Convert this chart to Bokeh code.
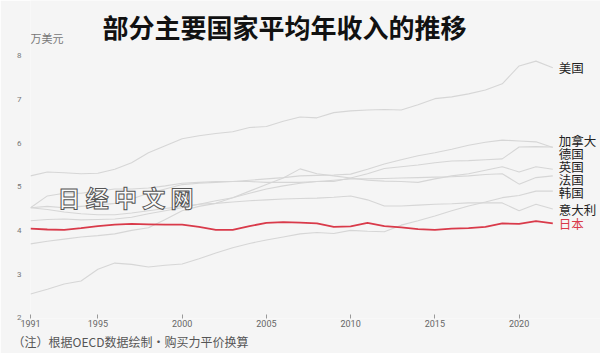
from bokeh.plotting import figure
from bokeh.models import Range1d, FixedTicker, Title, Label, ColumnDataSource
from bokeh.embed import file_html
from bokeh.resources import INLINE
from bokeh.core.properties import value

years = list(range(1991, 2023))

usa = [5.25, 5.34, 5.32, 5.30, 5.31, 5.40, 5.55, 5.78, 5.94, 6.10, 6.17, 6.22, 6.26, 6.36, 6.38, 6.50,
       6.60, 6.58, 6.70, 6.74, 6.76, 6.77, 6.76, 6.88, 7.02, 7.06, 7.13, 7.22, 7.36, 7.77, 7.88, 7.73]
canada = [4.52, 4.55, 4.52, 4.55, 4.58, 4.62, 4.72, 4.85, 4.95, 5.05, 5.08, 5.10, 5.12, 5.15, 5.18, 5.21,
          5.25, 5.26, 5.27, 5.29, 5.40, 5.52, 5.62, 5.71, 5.78, 5.86, 5.95, 6.02, 6.07, 6.05, 6.03, 5.90]
germany = [4.52, 4.79, 4.85, 4.85, 4.90, 4.95, 4.95, 4.97, 5.02, 5.08, 5.10, 5.12, 5.12, 5.12, 5.10, 5.10,
           5.10, 5.12, 5.12, 5.20, 5.30, 5.42, 5.46, 5.50, 5.55, 5.59, 5.60, 5.62, 5.64, 5.91, 5.92, 5.91]
uk = [3.69, 3.75, 3.80, 3.85, 3.88, 3.92, 4.00, 4.06, 4.25, 4.45, 4.55, 4.62, 4.75, 4.90, 5.05, 5.20,
      5.41, 5.30, 5.25, 5.20, 5.15, 5.13, 5.12, 5.10, 5.18, 5.25, 5.30, 5.38, 5.46, 5.34, 5.46, 5.40]
france = [4.22, 4.25, 4.26, 4.24, 4.25, 4.26, 4.30, 4.38, 4.45, 4.52, 4.60, 4.68, 4.75, 4.85, 4.95, 5.02,
          5.08, 5.12, 5.15, 5.18, 5.18, 5.19, 5.20, 5.21, 5.22, 5.23, 5.25, 5.28, 5.30, 5.06, 5.21, 5.25]
korea = [2.54, 2.65, 2.77, 2.84, 3.11, 3.25, 3.22, 3.16, 3.20, 3.23, 3.35, 3.48, 3.60, 3.70, 3.78, 3.85,
         3.92, 3.95, 3.93, 4.00, 3.98, 3.97, 4.12, 4.22, 4.33, 4.45, 4.56, 4.65, 4.75, 4.80, 4.90, 4.90]
italy = [4.52, 4.48, 4.42, 4.38, 4.36, 4.36, 4.40, 4.45, 4.50, 4.55, 4.60, 4.62, 4.65, 4.68, 4.70, 4.72,
         4.73, 4.74, 4.76, 4.79, 4.70, 4.56, 4.56, 4.58, 4.60, 4.61, 4.63, 4.63, 4.63, 4.45, 4.60, 4.49]
japan = [4.04, 4.02, 4.01, 4.05, 4.10, 4.13, 4.15, 4.14, 4.13, 4.13, 4.08, 4.01, 4.01, 4.10, 4.17, 4.19,
         4.18, 4.16, 4.08, 4.09, 4.17, 4.10, 4.07, 4.03, 4.01, 4.04, 4.05, 4.08, 4.16, 4.15, 4.21, 4.16]

names = ["美国", "加拿大", "德国", "英国", "法国", "韩国", "意大利", "日本"]
series = [usa, canada, germany, uk, france, korea, italy, japan]
x_ticks = [1991, 1995, 2000, 2005, 2010, 2015, 2020]
y_ticks = [2, 3, 4, 5, 6, 7, 8]

title_text = "部分主要国家平均年收入的推移"
unit_text = "万美元"
note_text = "（注）根据OECD数据绘制・购买力平价换算"
watermark_text = "日 经 中 文 网"

BG = "#f5f5f5"
GREY = "#d6d6d6"
RED = "#d93a4a"
CJK = "Noto Sans CJK SC"

p = figure(width=600, height=353, output_backend="svg", toolbar_location=None,
           x_range=Range1d(1991, 2024.83), y_range=Range1d(1.98, 9.27),
           min_border_left=30, min_border_right=0, min_border_top=0, min_border_bottom=35,
           background_fill_color=BG, border_fill_color=BG, outline_line_color=None)

p.grid.visible = False

p.yaxis.ticker = FixedTicker(ticks=y_ticks)
p.yaxis.axis_line_color = None
p.yaxis.major_tick_line_color = None
p.yaxis.minor_tick_line_color = None
p.yaxis.major_label_text_font_size = "8px"
p.yaxis.major_label_text_color = "#777777"
p.yaxis.major_label_text_font = "Roboto"
p.yaxis.major_label_standoff = 3

p.xaxis.ticker = FixedTicker(ticks=x_ticks)
p.xaxis.axis_line_color = None
p.xaxis.major_tick_in = 4
p.xaxis.major_tick_out = 0
p.xaxis.major_tick_line_color = "#999999"
p.xaxis.minor_tick_line_color = None
p.xaxis.major_label_text_font_size = "9px"
p.xaxis.major_label_text_color = "#666666"
p.xaxis.major_label_text_font = "Roboto"
p.xaxis.major_label_standoff = 1

# title and unit, placed relative to the top tick
p.add_layout(Label(x=years[0], y=y_ticks[-1], x_offset=72, y_offset=29, text=title_text,
                   text_font=CJK, text_font_size="26px", text_font_style="bold",
                   text_color="#111111", text_baseline="middle"))
p.add_layout(Label(x=years[0], y=y_ticks[-1], x_offset=0, y_offset=10, text=unit_text,
                   text_font=CJK, text_font_size="11px", text_color="#777777",
                   text_baseline="bottom"))

# watermark
p.add_layout(Label(x=years[0], y=5, x_offset=27, y_offset=-10, text=watermark_text,
                   text_font=CJK, text_font_size="23px", text_font_style="bold",
                   text_color="#fbfbfb", text_outline_color="#555555",
                   text_baseline="middle"))

for name, vals in zip(names, series):
    if name == "日本":
        continue
    p.line(years, vals, line_color=GREY, line_width=1.1)
p.line(years, japan, line_color=RED, line_width=1.8)

# end labels, spread apart to avoid overlap
ends = [s[-1] for s in series]
pos = list(ends)
gap = 0.3
for _ in range(300):
    for i in range(len(pos) - 1):
        d = pos[i] - pos[i + 1]
        if d < gap:
            adj = (gap - d) / 2
            pos[i] += adj
            pos[i + 1] -= adj

src = ColumnDataSource(dict(x=[years[-1]] * len(names), y=pos, text=names,
                            color=[RED if n == "日本" else "#222222" for n in names]))
p.text(x="x", y="y", text="text", source=src, text_color="color",
       text_font=value(CJK), text_font_size="12.5px", text_baseline="middle",
       x_offset=6)

p.add_layout(Title(text=note_text, align="left", offset=-18, text_font=CJK,
                   text_font_size="12px", text_font_style="normal", text_color="#555555",
                   standoff=2), "below")

open("out.html", "w").write(file_html(p, INLINE))
